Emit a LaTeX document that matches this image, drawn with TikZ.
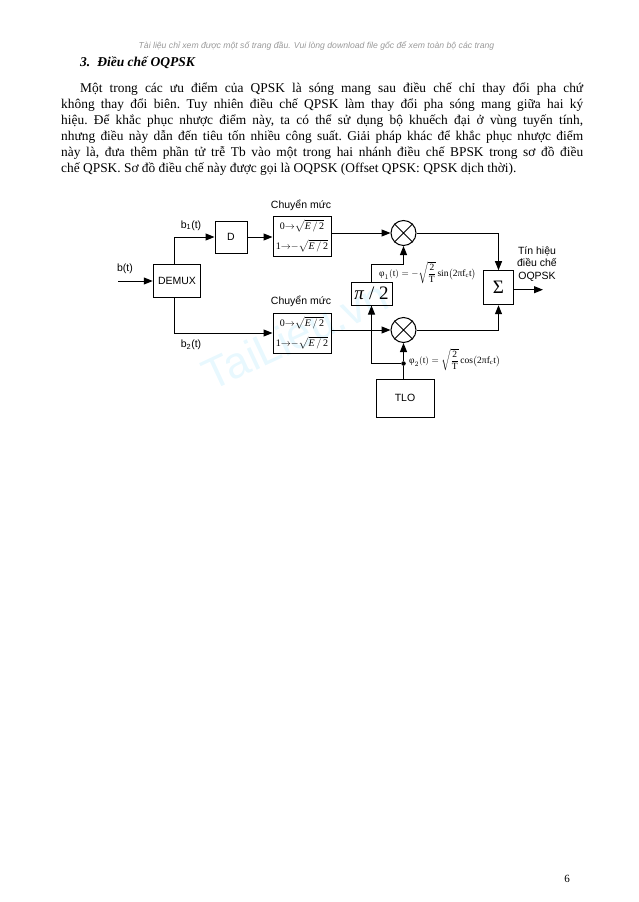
\documentclass[tikz,border=0pt]{standalone}
\usepackage{amsmath}
\usepackage{fontspec}
\setmainfont{Liberation Serif}
\setsansfont{Liberation Sans}
\usetikzlibrary{arrows.meta, positioning}

\begin{document}
\begin{tikzpicture}[
    x=1pt, y=-1pt,
    sysbox/.style={rectangle, draw, line width=1pt, inner sep=0pt, font=\sffamily\fontsize{10.5}{12}\selectfont},
    mapbox/.style={rectangle, draw, line width=1pt, inner sep=0pt, minimum width=58pt, minimum height=40pt, align=center, font=\fontsize{10}{20}\selectfont},
    mixer/.style={circle, draw, line width=1pt, minimum size=25pt, inner sep=0pt},
    lbl/.style={font=\sffamily\fontsize{10.5}{12.5}\selectfont, inner sep=0pt, align=center},
    frm/.style={font=\fontsize{9.5}{12}\selectfont, inner sep=0pt},
    arr/.style={-{Triangle[length=9pt, width=7pt]}, line width=1pt},
    dot/.style={circle, fill=black, inner sep=0pt, minimum size=4.5pt},
]
\useasboundingbox (0,0) rectangle (638,902);

% ========== PAGE TEXT ==========
\node[font=\sffamily\itshape\fontsize{8.65}{10}\selectfont, text=black!40] at (316.5,46) (header) {Tài liệu chỉ xem được một số trang đầu. Vui lòng download file gốc để xem toàn bộ các trang};
\node[font=\bfseries\itshape\fontsize{13.5}{16}\selectfont, anchor=west, inner sep=0pt] at (80,62.5) (title) {3.\hspace{7pt}Điều chế OQPSK};
\node[font=\frenchspacing\fontsize{13.4}{16}\selectfont, text width=522pt, anchor=north west, inner sep=0pt, align=justify] at (61,83) (para) {\hspace*{19pt}Một trong các ưu điểm của QPSK là sóng mang sau điều chế chỉ thay đổi pha chứ\linebreak
không thay đổi biên. Tuy nhiên điều chế QPSK làm thay đổi pha sóng mang giữa hai ký\linebreak
hiệu. Để khắc phục nhược điểm này, ta có thể sử dụng bộ khuếch đại ở vùng tuyến tính,\linebreak
nhưng điều này dẫn đến tiêu tốn nhiều công suất. Giải pháp khác để khắc phục nhược điểm\linebreak
này là, đưa thêm phần tử trễ Tb vào một trong hai nhánh điều chế BPSK trong sơ đồ điều\linebreak
chế QPSK. Sơ đồ điều chế này được gọi là OQPSK (Offset QPSK: QPSK dịch thời).};
\node[font=\fontsize{11}{13}\selectfont] at (567,879) (pageno) {6};

% ========== WATERMARK ==========
\node[font=\sffamily\fontsize{44}{44}\selectfont, text=cyan!9, rotate=25] at (295,335) (mark) {TaiLieu.vn};

% ========== BLOCKS ==========
\node[sysbox, minimum width=47.5pt, minimum height=33pt] at (177,280.5) (demux) {DEMUX};
\node[sysbox, minimum width=32pt, minimum height=32pt] at (231,237) (delay) {D};
\node[mapbox] at (302,236) (map1) {$\text{0}{\rightarrow}\sqrt{\textit{E}\,/\,\text{2}}$\\$\text{1}{\rightarrow}{-}\sqrt{\textit{E}\,/\,\text{2}}$};
\node[mapbox] at (302,333) (map2) {$\text{0}{\rightarrow}\sqrt{\textit{E}\,/\,\text{2}}$\\$\text{1}{\rightarrow}{-}\sqrt{\textit{E}\,/\,\text{2}}$};
\node[mixer] at (403.5,233) (mix1) {};
\node[mixer] at (403.5,330) (mix2) {};
\draw[line width=1pt] (mix1.north west) -- (mix1.south east) (mix1.north east) -- (mix1.south west);
\draw[line width=1pt] (mix2.north west) -- (mix2.south east) (mix2.north east) -- (mix2.south west);
\node[sysbox, minimum width=41pt, minimum height=23pt, font=\fontsize{19}{20}\selectfont] at (371.5,293.5) (shift) {\textit{π} / 2};
\node[sysbox, minimum width=29.5pt, minimum height=34pt, font=\fontsize{19}{20}\selectfont] at (498.5,287.7) (sum) {Σ};
\node[sysbox, minimum width=58pt, minimum height=38pt] at (405,398) (tlo) {TLO};
\node[dot] at (403.5,363.5) (junc) {};

% free ends
\coordinate (in) at (118,281);
\coordinate (out) at (543,289.7);
\coordinate (bend) at (403.5,264);

% ========== LABELS ==========
\node[lbl] at (125,269) (lblb) {b(t)};
\node[lbl] at (191,225.5) (lblb1) {b\textsubscript{1}(t)};
\node[lbl] at (191,345) (lblb2) {b\textsubscript{2}(t)};
\node[lbl] at (301,205) (lblmap1) {Chuyển mức};
\node[lbl] at (301,301) (lblmap2) {Chuyển mức};
\node[lbl] at (537,264) (lblout) {Tín hiệu\\điều chế\\OQPSK};
\node[frm, anchor=west] at (379,273) (phi1) {$\text{φ}_1(\text{t})={-}\sqrt{\dfrac{\text{2}}{\text{T}}}\,\text{sin}\bigl(\text{2π}\text{f}_{\text{c}}\text{t}\bigr)$};
\node[frm, anchor=west] at (409,360) (phi2) {$\text{φ}_2(\text{t})=\sqrt{\dfrac{\text{2}}{\text{T}}}\,\text{cos}\bigl(\text{2π}\text{f}_{\text{c}}\text{t}\bigr)$};

% ========== CONNECTIONS ==========
\draw[arr] (in) -- (demux.west |- in);
\draw[arr] ([xshift=-2.5pt]demux.north) |- (delay.west);
\draw[arr] (delay.east) -- (map1.west |- delay);
\draw[arr] ([xshift=-2.5pt]demux.south) |- (map2.west);
\draw[arr] (map1.east |- mix1) -- (mix1.west);
\draw[arr] (map2.east |- mix2) -- (mix2.west);

\draw[arr] (shift.north) |- (bend) -- (mix1.south);
\draw[arr] (junc) -| (shift.south);
\draw[line width=1pt] (tlo.north -| junc) -- (junc);
\draw[arr] (junc) -- (mix2.south);

\draw[arr] (mix1.east) -| (sum.north);
\draw[arr] (mix2.east) -| (sum.south);
\draw[arr] (sum.east |- out) -- (out);

\end{tikzpicture}
\end{document}
